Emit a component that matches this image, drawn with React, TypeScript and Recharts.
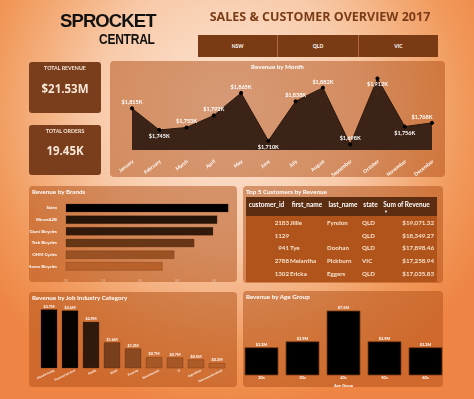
import React from 'react';
import { AreaChart, Area, BarChart, Bar, XAxis, YAxis, Cell, LabelList } from 'recharts';

const months = ['January', 'February', 'March', 'April', 'May', 'June', 'July', 'August', 'September', 'October', 'November', 'December'];
const monthRevenue = [1815, 1745, 1753, 1792, 1865, 1710, 1838, 1882, 1698, 1912, 1756, 1768];

const brands = ['Solex', 'WeareA2B', 'Giant Bicycles', 'Trek Bicycles', 'OHM Cycles', 'Norco Bicycles'];
const brandRevenue = [4.38, 4.08, 3.97, 3.46, 2.92, 2.6];
const brandTicks = [0, 1, 2, 3, 4];

const industries = ['Manufacturing', 'Financial Services', 'Health', 'Retail', 'Property', 'Entertainment', 'IT', 'Argiculture', 'Telecommunications'];
const industryRevenue = [3.72, 3.65, 2.93, 1.62, 1.23, 0.67, 0.65, 0.53, 0.3];

const ageGroups = ['20s', '30s', '40s', '50s', '60s'];
const ageRevenue = [3.2, 3.9, 7.5, 3.9, 3.2];

const customerIds = [2183, 1129, 941, 2788, 1302];
const firstNames = ['Jillie', '', 'Tye', 'Melantha', 'Ericka'];
const lastNames = ['Fyndon', '', 'Doohan', 'Pickburn', 'Eggers'];
const customerStates = ['QLD', 'QLD', 'QLD', 'VIC', 'QLD'];
const customerRevenue = [19071.32, 18349.27, 17898.46, 17258.94, 17035.83];

const states = ['NSW', 'QLD', 'VIC'];
const totalRevenue = '$21.53M';
const totalOrders = '19.45K';

// months whose value label sits under the point
const labelBelow = new Set(['February', 'June', 'October', 'November']);

const FONT = 'Lato, "Open Sans", sans-serif';
const PANEL_BG = 'rgba(175, 78, 22, 0.5)';

const monthData = months.map((m, i) => ({ name: m, value: monthRevenue[i] }));
const brandData = brands.map((b, i) => ({ name: b, value: brandRevenue[i] }));
const industryData = industries.map((b, i) => ({ name: b, value: industryRevenue[i] }));
const ageData = ageGroups.map((a, i) => ({ name: a, value: ageRevenue[i] }));

// dark (high) -> orange (low), like the conditional colouring
const shade = (v: number, min: number, max: number) => {
  const t = Math.pow((max - v) / (max - min), 0.9);
  const r = Math.round(t * 184);
  const g = Math.round(t * 97);
  const b = Math.round(t * 42);
  return `rgb(${r},${g},${b})`;
};

const MonthTick = (props: any) => {
  const { x, y, payload } = props;
  return (
    <text
      x={x + 2}
      y={y + 4}
      transform={`rotate(-38, ${x + 2}, ${y + 4})`}
      textAnchor="end"
      fontSize={5}
      fontWeight={700}
      fill="#fff"
      fontFamily={FONT}
    >
      {payload.value}
    </text>
  );
};

const MonthLabel = (props: any) => {
  const { x, y, value, index } = props;
  const below = labelBelow.has(months[index]);
  const last = index === months.length - 1;
  return (
    <text
      x={last ? x - 10 : x}
      y={below ? y + 8 : y - 4}
      textAnchor="middle"
      fontSize={5.5}
      fontWeight={700}
      fill="#fff"
      fontFamily={FONT}
    >
      {`$${value.toLocaleString('en-US')}K`}
    </text>
  );
};

const BrandTick = (props: any) => {
  const { x, y, payload } = props;
  return (
    <text x={x - 1} y={y + 1.6} textAnchor="end" fontSize={4.4} fontWeight={700} fill="#fff" fontFamily={FONT}>
      {payload.value}
    </text>
  );
};

const IndustryTick = (props: any) => {
  const { x, y, payload } = props;
  const ty = y - 5;
  return (
    <text
      x={x + 6}
      y={ty}
      transform={`rotate(-26, ${x + 6}, ${ty})`}
      textAnchor="end"
      fontSize={2.9}
      fontWeight={700}
      fill="#fff"
      fontFamily={FONT}
    >
      {payload.value}
    </text>
  );
};

const Panel: React.FC<{ x: number; y: number; w: number; h: number; title?: string; center?: boolean; children?: React.ReactNode }> = ({ x, y, w, h, title, center, children }) => (
  <div
    style={{
      position: 'absolute',
      left: x,
      top: y,
      width: w,
      height: h,
      background: PANEL_BG,
      borderRadius: 4,
    }}
  >
    {title && (
      <div
        style={{
          position: 'absolute',
          left: center ? 0 : 3,
          width: center ? w : undefined,
          textAlign: center ? 'center' : 'left',
          top: 2,
          fontSize: 6.3,
          fontWeight: 700,
          color: '#fff',
          fontFamily: FONT,
          whiteSpace: 'nowrap',
        }}
      >
        {title}
      </div>
    )}
    {children}
  </div>
);

const KpiCard: React.FC<{ y: number; h: number; title: string; value: string }> = ({ y, h, title, value }) => (
  <div
    style={{
      position: 'absolute',
      left: 29,
      top: y,
      width: 72,
      height: h,
      background: '#7b3e1d',
      borderRadius: 3,
      fontFamily: FONT,
      color: '#f6e6d6',
      textAlign: 'center',
    }}
  >
    <div style={{ position: 'absolute', top: 3, width: '100%', fontSize: 5.3, fontWeight: 700 }}>{title}</div>
    <div style={{ position: 'absolute', top: h / 2 - 7, width: '100%', fontSize: 11.5, fontWeight: 700, fontFamily: '"Open Sans", sans-serif' }}>{value}</div>
  </div>
);

const tableCols = [
  { key: 'customer_id', left: 246, width: 43, align: 'right' as const },
  { key: 'first_name', left: 290, width: 36, align: 'left' as const },
  { key: 'last_name', left: 327, width: 34, align: 'left' as const },
  { key: 'state', left: 362, width: 19, align: 'left' as const },
  { key: 'Sum of Revenue', left: 381, width: 53, align: 'right' as const },
];

export default function App() {
  const rows = customerIds.map((id, i) => [
    String(id),
    firstNames[i],
    lastNames[i],
    customerStates[i],
    `$${customerRevenue[i].toLocaleString('en-US', { minimumFractionDigits: 2 })}`,
  ]);

  return (
    <div
      style={{
        position: 'fixed',
        left: 0,
        top: 0,
        width: 474,
        height: 399,
        overflow: 'hidden',
        background: 'radial-gradient(ellipse 62% 75% at 48% 28%, #fde7d8 0%, #f8caa9 45%, #f19a5c 80%, #ee8544 100%)',
        fontFamily: FONT,
      }}
    >
      {/* logo */}
      <div style={{ position: 'absolute', left: 60, top: 12, fontFamily: '"Liberation Sans", Arial, sans-serif', fontWeight: 700, color: '#111', lineHeight: 1 }}>
        <div style={{ fontSize: 18.5, letterSpacing: -0.9 }}>SPROCKET</div>
        <div style={{ fontSize: 15, marginLeft: 39, transform: 'scaleX(0.8)', transformOrigin: 'left', letterSpacing: -0.3 }}>CENTRAL</div>
      </div>

      {/* title */}
      <div style={{ position: 'absolute', left: 200, width: 240, top: 8, textAlign: 'center', fontSize: 12.5, fontWeight: 700, color: '#7a3c16', fontFamily: '"Open Sans", sans-serif', whiteSpace: 'nowrap' }}>
        SALES &amp; CUSTOMER OVERVIEW 2017
      </div>

      {/* state slicer */}
      <div style={{ position: 'absolute', left: 198, top: 35, width: 240, height: 22, display: 'flex', background: '#7a3b14' }}>
        {states.map((s, i) => (
          <div
            key={s}
            style={{
              flex: 1,
              borderLeft: i ? '1px solid #b06a3c' : 'none',
              color: '#fff',
              fontSize: 5,
              fontWeight: 700,
              display: 'flex',
              alignItems: 'center',
              justifyContent: 'center',
            }}
          >
            {s}
          </div>
        ))}
      </div>

      <KpiCard y={62} h={51} title="TOTAL REVENUE" value={totalRevenue} />
      <KpiCard y={125} h={50} title="TOTAL ORDERS" value={totalOrders} />

      {/* revenue by month */}
      <Panel x={110} y={61} w={335} h={116} title="Revenue by Month" center>
        <div style={{ position: 'absolute', left: 0, top: 0 }}>
          <AreaChart width={335} height={116} data={monthData} margin={{ top: 15, right: 13, left: 22, bottom: 0 }}>
            <XAxis dataKey="name" interval={0} height={27} axisLine={false} tickLine={false} tick={<MonthTick />} />
            <YAxis hide domain={[1680, 1920]} />
            <Area
              type="linear"
              dataKey="value"
              stroke="#2a170d"
              strokeWidth={1}
              fill="#3b2417"
              fillOpacity={1}
              dot={{ r: 1.6, fill: '#000', stroke: '#000' }}
              isAnimationActive={false}
            >
              <LabelList dataKey="value" content={<MonthLabel />} />
            </Area>
          </AreaChart>
        </div>
      </Panel>

      {/* revenue by brands */}
      <Panel x={29} y={186} w={208} h={96} title="Revenue by Brands">
        <div style={{ position: 'absolute', left: 0, top: 0 }}>
          <BarChart width={208} height={96} data={brandData} layout="vertical" margin={{ top: 16, right: 7, left: 0, bottom: 0 }}>
            <XAxis
              type="number"
              domain={[0, 4.43]}
              ticks={brandTicks}
              height={10}
              axisLine={false}
              tickLine={false}
              tick={{ fontSize: 3, fill: 'rgba(255,255,255,0.45)' }}
              tickFormatter={(v) => `${v}M`}
            />
            <YAxis type="category" dataKey="name" width={37} interval={0} axisLine={false} tickLine={false} tick={<BrandTick />} />
            <Bar dataKey="value" barSize={8} stroke="rgba(90,40,10,0.5)" strokeWidth={0.5} isAnimationActive={false}>
              {brandData.map((d) => (
                <Cell key={d.name} fill={shade(d.value, Math.min(...brandRevenue), Math.max(...brandRevenue))} />
              ))}
            </Bar>
          </BarChart>
        </div>
      </Panel>

      {/* top 5 customers */}
      <Panel x={243} y={186} w={200} h={97} title="Top 5 Customers by Revenue">
        <div style={{ position: 'absolute', left: 3, top: 11, width: 191, height: 19, background: '#5c2d10' }} />
        <div style={{ position: 'absolute', left: 3, top: 30, width: 191, height: 66, background: '#b0541c' }} />
      </Panel>
      {tableCols.map((c) => (
        <div
          key={c.key}
          style={{
            position: 'absolute',
            left: c.left - 2,
            top: 201,
            width: c.width + 2,
            textAlign: 'center',
            fontSize: 6.5,
            fontWeight: 700,
            color: '#fff',
            whiteSpace: 'nowrap',
          }}
        >
          {c.key}
        </div>
      ))}
      <div style={{ position: 'absolute', left: 384, top: 209, fontSize: 4, color: '#fff' }}>▼</div>
      {rows.map((r, ri) =>
        r.map((cell, ci) => (
          <div
            key={`${ri}-${ci}`}
            style={{
              position: 'absolute',
              left: tableCols[ci].left,
              top: 219 + ri * 12.7,
              width: tableCols[ci].width,
              textAlign: tableCols[ci].align,
              fontSize: 6.2,
              fontWeight: 700,
              color: '#f6e2cc',
              whiteSpace: 'nowrap',
            }}
          >
            {cell}
          </div>
        ))
      )}

      {/* revenue by job industry */}
      <Panel x={29} y={292} w={208} h={95} title="Revenue by Job Industry Category">
        <div style={{ position: 'absolute', left: 0, top: 0 }}>
          <BarChart width={208} height={95} data={industryData} margin={{ top: 14, right: 10, left: 9, bottom: 0 }}>
            <XAxis dataKey="name" interval={0} height={19} axisLine={false} tickLine={false} tick={<IndustryTick />} />
            <YAxis hide domain={[0, 3.95]} />
            <Bar dataKey="value" barSize={16} stroke="rgba(90,40,10,0.6)" strokeWidth={0.5} isAnimationActive={false}>
              {industryData.map((d) => (
                <Cell key={d.name} fill={shade(d.value, Math.min(...industryRevenue), Math.max(...industryRevenue))} />
              ))}
              <LabelList
                dataKey="value"
                position="top"
                offset={2}
                formatter={(v: any) => `$${Number(v).toFixed(1)}M`}
                style={{ fontSize: 3.8, fontWeight: 700, fill: '#fff' }}
              />
            </Bar>
          </BarChart>
        </div>
      </Panel>

      {/* revenue by age group */}
      <Panel x={243} y={291} w={200} h={96} title="Revenue by Age Group">
        <div style={{ position: 'absolute', left: -2, top: 0 }}>
          <BarChart width={205} height={96} data={ageData} margin={{ top: 14, right: 0, left: 0, bottom: 0 }}>
            <XAxis
              dataKey="name"
              interval={0}
              height={12}
              axisLine={false}
              tickLine={false}
              tickSize={0}
              tick={{ fontSize: 4, fontWeight: 700, fill: '#fff', dy: -1 }}
              label={{ value: 'Age Group', position: 'insideBottom', offset: 0, style: { fontSize: 4, fontWeight: 700, fill: '#fff' } }}
            />
            <YAxis hide domain={[0, 8.2]} />
            <Bar dataKey="value" barSize={33} fill="#000" stroke="#7a3b14" strokeWidth={0.8} isAnimationActive={false}>
              <LabelList
                dataKey="value"
                position="top"
                offset={2}
                formatter={(v: any) => `$${Number(v).toFixed(1)}M`}
                style={{ fontSize: 4, fontWeight: 700, fill: '#fff' }}
              />
            </Bar>
          </BarChart>
        </div>
      </Panel>
    </div>
  );
}
